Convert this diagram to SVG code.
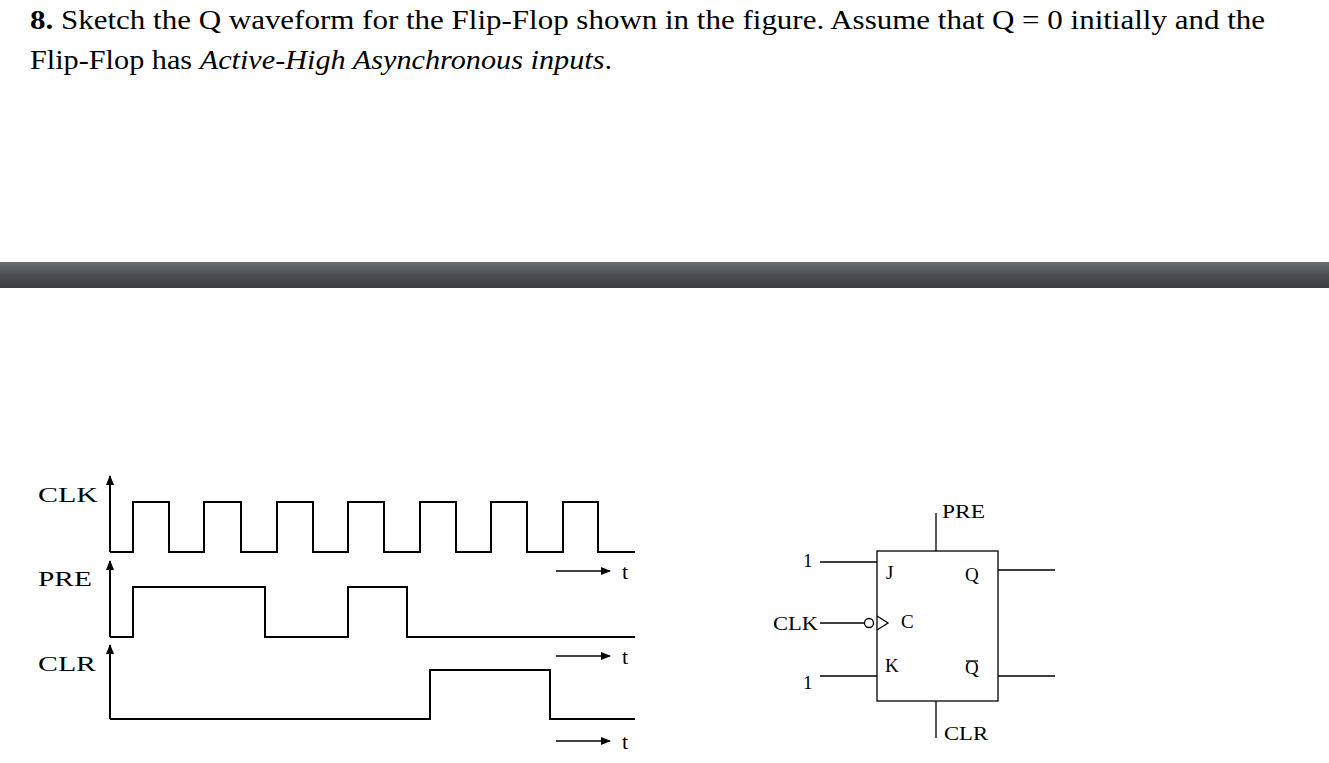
<svg xmlns="http://www.w3.org/2000/svg" width="1329" height="763" viewBox="0 0 1329 763">
<style>
text{font-family:"Liberation Serif","Times New Roman","DejaVu Serif",serif;fill:#000}
.h{font-size:28px}
.l{font-size:22px}
.f{font-size:19px}
.w{fill:none;stroke:#000;stroke-width:2}
.s{fill:none;stroke:#000;stroke-width:1.3}
</style>
<defs>
<marker id="a" markerWidth="10" markerHeight="8" refX="9" refY="4" orient="auto" markerUnits="userSpaceOnUse"><path d="M0,0L10,4L0,8z" fill="#000"/></marker>
<linearGradient id="g" x1="0" y1="0" x2="0" y2="1"><stop offset="0" stop-color="#6a6e73"/><stop offset="0.5" stop-color="#4a4e53"/><stop offset="1" stop-color="#3a3e43"/></linearGradient>
</defs>
<rect width="1329" height="763" fill="#fff"/>
<text class="h" x="30" y="29" textLength="1235" lengthAdjust="spacingAndGlyphs"><tspan font-weight="bold">8.</tspan> Sketch the Q waveform for the Flip-Flop shown in the figure. Assume that Q = 0 initially and the</text>
<text class="h" x="30" y="69" textLength="582" lengthAdjust="spacingAndGlyphs">Flip-Flop has <tspan font-style="italic">Active-High Asynchronous inputs</tspan>.</text>
<rect x="0" y="262" width="1329" height="26" fill="url(#g)"/>
<g id="timing">
<text class="l" x="38" y="502" textLength="60" lengthAdjust="spacingAndGlyphs">CLK</text>
<text class="l" x="38" y="586" textLength="54" lengthAdjust="spacingAndGlyphs">PRE</text>
<text class="l" x="38" y="671" textLength="58" lengthAdjust="spacingAndGlyphs">CLR</text>
<path class="w" d="M110,552V476" marker-end="url(#a)"/>
<path class="w" d="M110,637V561" marker-end="url(#a)"/>
<path class="w" d="M110,719V645" marker-end="url(#a)"/>
<path class="w" d="M110,552H133V502H169V552H204V502H241V552H277V502H313V552H348V502H384V552H420V502H456V552H491V502H527V552H563V502H598V552H635"/>
<path class="w" d="M110,637H133V587H265V637H348V587H407V637H635"/>
<path class="w" d="M110,719H430V670H550V719H635"/>
<path class="s" d="M556,571H610" marker-end="url(#a)"/>
<path class="s" d="M556,656H610" marker-end="url(#a)"/>
<path class="s" d="M556,741H610" marker-end="url(#a)"/>
<text class="l" x="622" y="579">t</text>
<text class="l" x="622" y="664">t</text>
<text class="l" x="622" y="749">t</text>
</g>
<g id="flipflop">
<rect class="s" x="877" y="551" width="121" height="150"/>
<path class="s" d="M936,513V551M936,701V738M820,562H877M820,623H865M820,676H877M998,570H1055M998,676H1055"/>
<circle class="s" cx="869" cy="623" r="4.5" fill="#fff"/>
<path class="s" d="M877,616L888,623L877,630"/>
<text class="f" x="942" y="518" textLength="43" lengthAdjust="spacingAndGlyphs">PRE</text>
<text class="f" x="944" y="740" textLength="44" lengthAdjust="spacingAndGlyphs">CLR</text>
<text class="f" x="803" y="567">1</text>
<text class="f" x="803" y="689">1</text>
<text class="f" x="773" y="630" textLength="45" lengthAdjust="spacingAndGlyphs">CLK</text>
<text class="f" x="886" y="579">J</text>
<text class="f" x="901" y="628">C</text>
<text class="f" x="885" y="672">K</text>
<text class="f" x="965" y="581">Q</text>
<text class="f" x="965" y="674">Q</text>
<path class="s" d="M966,661H978"/>
</g>
</svg>
